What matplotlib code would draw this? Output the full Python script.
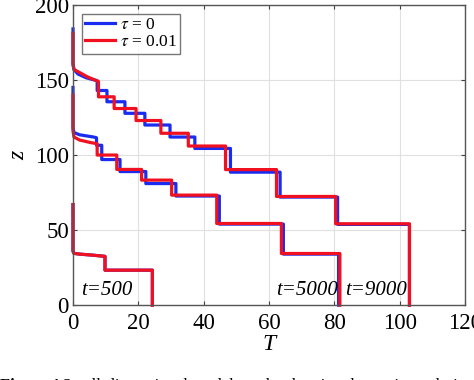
import numpy as np
import matplotlib
matplotlib.use("Agg")
import matplotlib.pyplot as plt

plt.rcParams['font.family'] = ['Liberation Serif', 'DejaVu Serif']
plt.rcParams['mathtext.fontset'] = 'stix'

# ==============================
# profiles T(z)
# ==============================
# t = 9000
T9000_tau0 = [0, 0, 0.3, 1.5, 4, 7.4, 7.4, 10.4, 10.4, 15.9, 15.9, 22, 22, 29.7, 29.7,
              37.3, 37.3, 48.2, 48.2, 63.4, 63.4, 81, 81, 103, 103]
z9000_tau0 = [184, 161, 157, 154, 151.5, 149.5, 143, 143, 135.5, 135.5, 127.8, 127.8, 120, 120, 112,
              112, 104.4, 104.4, 88.6, 88.6, 72, 72, 53.8, 53.8, 0]
T9000_tau1 = [0, 0, 0.3, 2, 4.5, 7.8, 7.8, 12.6, 12.6, 19.3, 19.3, 26.9, 26.9, 35.3, 35.3,
              46.7, 46.7, 62.3, 62.3, 80.4, 80.4, 103, 103]
z9000_tau1 = [181, 160, 157, 155, 152, 149, 138.8, 138.8, 131, 131, 123, 123, 114.5, 114.5, 106,
              106, 90.3, 90.3, 72.4, 72.4, 54.2, 54.2, 0]

# t = 5000
T5000_tau0 = [0, 0, 0.3, 2, 6.3, 7.2, 7.2, 8.8, 8.8, 14.4, 14.4, 22.3, 22.3, 31.5, 31.5,
              44.8, 44.8, 64.4, 64.4, 81.3, 81.3]
z5000_tau0 = [145, 118, 115, 113.5, 112, 111.5, 106.5, 106.5, 97, 97, 89, 89, 81, 81, 72.7,
              72.7, 54, 54, 34, 34, 0]
T5000_tau1 = [0, 0, 0.3, 2, 5, 7.4, 7.4, 13.4, 13.4, 21, 21, 30.2, 30.2, 44, 44,
              63.8, 63.8, 81.7, 81.7]
z5000_tau1 = [140, 116, 112, 110, 108.5, 107.5, 100, 100, 90.4, 90.4, 83.3, 83.3, 73.3, 73.3, 54.4,
              54.4, 34.4, 34.4, 0]

# t = 500 (both cases coincide)
T500 = [0, 0, 0.3, 2, 6, 9.8, 9.8, 24.3, 24.3]
z500 = [67, 36, 34.5, 34, 33.3, 32.5, 23.3, 23.3, 0]

labels = [r'$\tau$ = 0', r'$\tau$ = 0.01']
times = ['t=500', 't=5000', 't=9000']

blue = '#1a2cf0'
red = '#f01020'

fig = plt.figure(figsize=(4.74, 3.80), dpi=100)
ax = fig.add_axes([0.154, 0.197, 0.827, 0.790])

lw = 2.3
ax.plot(T500, z500, color=blue, lw=lw, clip_on=False)
ax.plot(T5000_tau0, z5000_tau0, color=blue, lw=lw, clip_on=False)
ax.plot(T9000_tau0, z9000_tau0, color=blue, lw=lw, label=labels[0], clip_on=False)
ax.plot(T500, z500, color=red, lw=lw, clip_on=False)
ax.plot(T5000_tau1, z5000_tau1, color=red, lw=lw, clip_on=False)
ax.plot(T9000_tau1, z9000_tau1, color=red, lw=lw, label=labels[1], clip_on=False)

# tempos
tkw = dict(fontsize=15, style='italic', va='bottom')
ax.text(2.6, 3.5, times[0], ha='left', **tkw)
ax.text(81.0, 3.5, times[1], ha='right', **tkw)
ax.text(83.3, 3.5, times[2], ha='left', **tkw)

ax.set_xlim(0, 120)
ax.set_ylim(0, 200)
ax.set_xticks(np.arange(0, 121, 20))
ax.set_yticks(np.arange(0, 201, 50))
ax.grid(True, color='#e0e0e0', lw=0.8)
ax.set_axisbelow(True)
ax.tick_params(direction='in', top=True, right=True, labelsize=16.5, length=3,
               color='#404040', pad=3)
ax.tick_params(axis='x', pad=6)
for s in ax.spines.values():
    s.set_color('#555555')
    s.set_linewidth(1.0)

ax.set_xlabel('T', fontsize=17, style='italic', labelpad=0)
ax.set_ylabel('z', fontsize=17, style='italic', labelpad=4)

leg = ax.legend(loc='upper left', fontsize=12.5, frameon=True, fancybox=False,
                handlelength=1.7, handletextpad=0.3, borderpad=0.2,
                labelspacing=0.05, borderaxespad=0.5)
leg.get_frame().set_edgecolor('#555555')
leg.get_frame().set_linewidth(1.0)
leg.set_zorder(5)

# legenda cortada da figura
fig.text(0.0, -0.017, 'Figure 4', fontsize=12, fontweight='bold', va='center')
fig.text(0.13, -0.017, 'Small-dimensional model results showing the strain evolution',
         fontsize=12, va='center')

fig.savefig('out.png', dpi=100)
